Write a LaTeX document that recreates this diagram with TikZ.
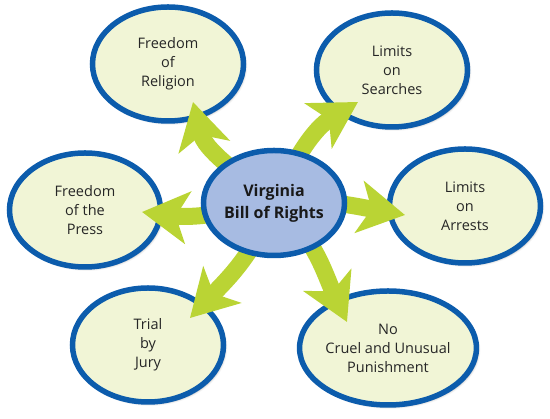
\documentclass[tikz,border=0pt]{standalone}
\usepackage{fontspec}
\setmainfont{Open Sans}
\usetikzlibrary{arrows.meta,shapes.geometric,shadows.blur,backgrounds}
\definecolor{rimblue}{RGB}{12,92,172}
\definecolor{palegreen}{RGB}{241,245,214}
\definecolor{hubblue}{RGB}{167,187,226}
\definecolor{limegreen}{RGB}{186,212,52}
\tikzset{
  topicnode/.style={ellipse,draw=rimblue,line width=5.5pt,fill=palegreen,minimum width=151pt,minimum height=114pt,inner sep=0pt,align=center,text=black!85,font=\fontsize{14.5}{19}\selectfont,blur shadow={shadow xshift=2pt,shadow yshift=-2pt,shadow blur steps=6,shadow opacity=30}},
  hubnode/.style={ellipse,draw=rimblue,line width=5.5pt,fill=hubblue,minimum width=139pt,minimum height=105pt,inner sep=0pt,align=center,text=black!90,font=\bfseries\fontsize{16}{22}\selectfont},
  bigarrow/.style={draw=limegreen,line width=17pt,-{Stealth[length=46pt,width=52pt,inset=12pt]}},
  every picture/.style={line cap=round}
}
\begin{document}
\begin{tikzpicture}[x=1pt,y=1pt]
    \useasboundingbox (0,0) rectangle (550,419);
    \node[hubnode] (bill) at (274,216) {Virginia\\Bill of Rights};

    \begin{scope}[on background layer]
      \node[topicnode] (relig) at (168,355) {Freedom\\of\\Religion};
      \node[topicnode] (search) at (392,349) {Limits\\on\\Searches};
      \node[topicnode] (press) at (85,209) {Freedom\\of the\\Press};
      \node[topicnode] (arrest) at (465,213) {Limits\\on\\Arrests};
      \node[topicnode] (jury) at (148,74) {Trial\\by\\Jury};
      \node[topicnode,minimum width=158pt] (punish) at (388,71) {No\\Cruel and Unusual\\Punishment};
      % arrow tips sit just inside the outer ellipses
      \coordinate (trelig) at (193,317);
      \coordinate (tsearch) at (358,317);
      \coordinate (tpress) at (142,207);
      \coordinate (tarrest) at (405,204);
      \coordinate (tjury) at (190,101);
      \coordinate (tpunish) at (347,97);
      \draw[bigarrow] (bill.center) to[out=140,in=-76] (trelig);
      \draw[bigarrow] (bill.center) to[out=65,in=211] (tsearch);
      \draw[bigarrow] (bill.center) to[out=192,in=-7] (tpress);
      \draw[bigarrow] (bill.center) to[out=5,in=170] (tarrest);
      \draw[bigarrow] (bill.center) to[out=248,in=46] (tjury);
      \draw[bigarrow] (bill.center) to[out=-40,in=115] (tpunish);
    \end{scope}
  \end{tikzpicture}
\end{document}
